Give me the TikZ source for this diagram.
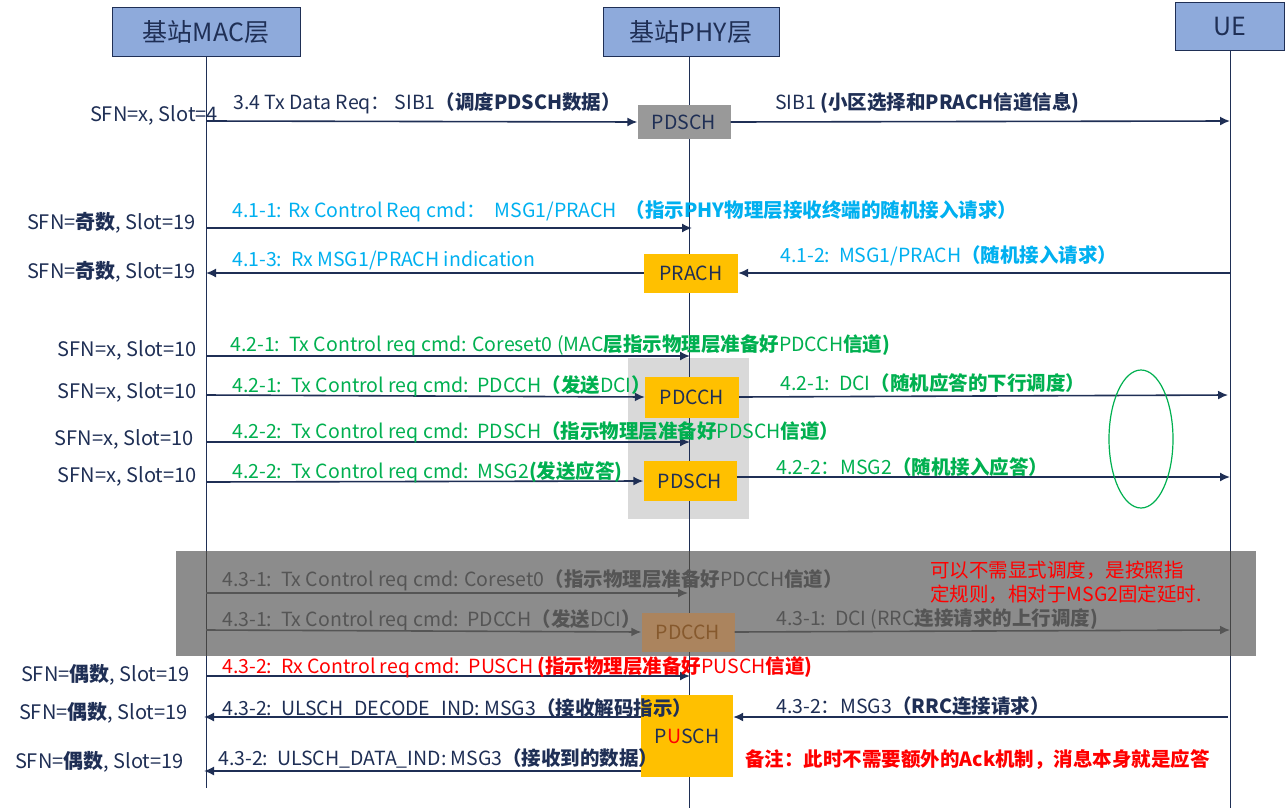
\documentclass[tikz,border=0pt]{standalone}
\usepackage{fontspec}
\setmainfont{Noto Sans CJK SC}
\usetikzlibrary{arrows.meta}
\definecolor{navy}{HTML}{1F2F55}
\definecolor{hdr}{HTML}{8EAADB}
\definecolor{org}{HTML}{FFC000}
\definecolor{cy}{HTML}{00B0F0}
\definecolor{gr}{HTML}{00B050}
\definecolor{ovl}{HTML}{8C8C8C}
\definecolor{ovt}{HTML}{555555}
\begin{document}
\begin{tikzpicture}[x=1pt,y=-1pt,
  hdrbox/.style={draw=navy,fill=hdr,font=\fontsize{25}{27}\selectfont,text=navy,inner sep=0},
  life/.style={navy,line width=1pt},
  msg/.style={navy,line width=1.6pt,-{Latex[length=10pt,width=9pt]}},
  chbox/.style={fill=org,font=\fontsize{19.5}{21}\selectfont,text=navy,inner sep=0},
  lbl/.style={anchor=west,font=\fontsize{19.5}{24}\selectfont,inner sep=0},
  sfn/.style={anchor=east,font=\fontsize{20}{22}\selectfont,text=navy,inner sep=0}]
\useasboundingbox (0,0) rectangle (1288,811);
\fill[white] (0,0) rectangle (1288,811);
% headers
\node[hdrbox,minimum width=188,minimum height=49] (mac) at (206,32) {基站MAC层};
\node[hdrbox,minimum width=176,minimum height=49] (phy) at (691,32) {基站PHY层};
\node[hdrbox,minimum width=109,minimum height=48] (ue) at (1230,26) {UE};
\coordinate (macE) at (206,788);
\coordinate (phyE) at (689,808);
\coordinate (ueE) at (1230,808);
% light gray backdrop
\fill[gray!30] (628,358) rectangle (749,519);
\draw[life] (mac.south) -- (macE);
\draw[life] (phy.south -| phyE) -- (phyE);
\draw[life] (ue.south) -- (ueE);
% row 1
\node[chbox,fill=gray!80,minimum width=93,minimum height=34] (b1) at (684,122) {PDSCH};
\coordinate (m1) at (206,121); \coordinate (u1) at (1230,121);
\draw[msg] (m1) -- (b1.west);
\draw[msg] (b1.east) -- (u1);
\node[lbl,text=navy] at (233,103) {3.4 Tx Data Req： SIB1\textbf{（调度PDSCH数据）}};
\node[lbl,text=navy] at (775,103) {SIB1 \textbf{(小区选择和PRACH信道信息)}};
\node[sfn] at (218,115) {SFN=x, Slot=4};
% 4.1
\coordinate (m2) at (206,228); \coordinate (p2) at (692,228);
\draw[msg] (m2) -- (p2);
\node[lbl,text=cy] at (232,211) {4.1-1: Rx Control Req cmd：\ \ MSG1/PRACH\ \ \textbf{（指示PHY物理层接收终端的随机接入请求）}};
\node[sfn] at (196,223) {SFN=\textbf{奇数}, Slot=19};
\node[chbox,minimum width=94,minimum height=39] (b2) at (691,273) {PRACH};
\coordinate (m3) at (206,273); \coordinate (u3) at (1230,273);
\draw[msg] (u3) -- (b2.east);
\draw[msg] (b2.west) -- (m3);
\node[lbl,text=cy] at (232,260) {4.1-3:\ \ Rx MSG1/PRACH indication};
\node[lbl,text=cy] at (780,256) {4.1-2:\ \ MSG1/PRACH\textbf{（随机接入请求）}};
\node[sfn] at (196,272) {SFN=\textbf{奇数}, Slot=19};
% 4.2
\coordinate (m4) at (206,356); \coordinate (p4) at (690,356);
\draw[msg] (m4) -- (p4);
\node[lbl,text=gr] at (230,345) {4.2-1:\ \ Tx Control req cmd: Coreset0 (MAC\textbf{层指示物理层准备好}PDCCH\textbf{信道)}};
\node[sfn] at (197,350) {SFN=x, Slot=10};
\node[chbox,minimum width=94,minimum height=41] (b3) at (692,397) {PDCCH};
\coordinate (m5) at (206,395); \coordinate (u5) at (1228,395);
\draw[msg] (m5) -- (b3.west);
\draw[msg] (b3.east) -- (u5);
\node[lbl,text=gr] at (232,386) {4.2-1:\ \ Tx Control req cmd:\ \ PDCCH\textbf{（发送}DCI\textbf{）}};
\node[lbl,text=gr] at (780,383) {4.2-1:\ \ DCI\textbf{（随机应答的下行调度）}};
\node[sfn] at (197,392) {SFN=x, Slot=10};
\coordinate (m6) at (206,442); \coordinate (p6) at (690,442);
\draw[msg] (m6) -- (p6);
\node[lbl,text=gr] at (232,432) {4.2-2:\ \ Tx Control req cmd:\ \ PDSCH\textbf{（指示物理层准备好}PDSCH\textbf{信道）}};
\node[sfn] at (194,439) {SFN=x, Slot=10};
\node[chbox,minimum width=93,minimum height=40] (b4) at (690,481) {PDSCH};
\coordinate (m7) at (206,482); \coordinate (u7) at (1230,477);
\draw[msg] (m7) -- (b4.west);
\draw[msg] (b4.east |- u7) -- (u7);
\node[lbl,text=gr] at (232,472) {4.2-2:\ \ Tx Control req cmd:\ \ MSG2\textbf{(发送应答)}};
\node[lbl,text=gr] at (776,467) {4.2-2：MSG2\textbf{（随机接入应答）}};
\node[sfn] at (197,476) {SFN=x, Slot=10};
\draw[gr,line width=1.2pt] (1141,439) ellipse [x radius=32,y radius=69];
% 4.3-1 overlay
\fill[ovl] (176,551) rectangle (1256,656);
\draw[ovt!80!black,line width=1pt] (206,551) -- (206,656) (689,551) -- (689,656) (1230,551) -- (1230,656);
\coordinate (m8) at (206,593); \coordinate (p8) at (688,593);
\draw[msg,ovt] (m8) -- (p8);
\node[lbl,text=ovt] at (222,580) {4.3-1:\ \ Tx Control req cmd: Coreset0\textbf{（指示物理层准备好}PDCCH\textbf{信道）}};
\node[chbox,fill=brown!60!ovl,text=brown!70!black,minimum width=93,minimum height=39] (b5) at (688,632) {PDCCH};
\coordinate (m9) at (206,630); \coordinate (u9) at (1230,630);
\draw[msg,ovt] (m9) -- (b5.west);
\draw[msg,ovt] (b5.east) -- (u9);
\node[lbl,text=ovt] at (222,620) {4.3-1:\ \ Tx Control req cmd:\ \ PDCCH\textbf{（发送}DCI\textbf{）}};
\node[lbl,text=ovt] at (776,619) {4.3-1:\ \ DCI (RRC\textbf{连接请求的上行调度)}};
\node[lbl,text=red,align=left] at (930,582) {可以不需显式调度，是按照指\\定规则，相对于MSG2固定延时.};
% 4.3-2
\coordinate (m10) at (206,676); \coordinate (p10) at (690,676);
\draw[msg] (m10) -- (p10);
\node[lbl,text=red] at (222,667) {4.3-2:\ \ Rx Control req cmd:\ \ PUSCH \textbf{(指示物理层准备好}PUSCH\textbf{信道)}};
\node[sfn] at (190,675) {SFN=\textbf{偶数}, Slot=19};
\node[chbox,minimum width=92,minimum height=82] (b6) at (687,736) {P\textcolor{red}{U}SCH};
\coordinate (u11) at (1228,717); \coordinate (m11) at (204,717); \coordinate (m12) at (204,771);
\draw[msg] (u11) -- (b6.east |- u11);
\draw[msg] (b6.west |- m11) -- (m11);
\draw[msg] (b6.west |- m12) -- (m12);
\node[lbl,text=navy] at (222,708) {4.3-2:\ \ ULSCH\_DECODE\_IND: MSG3\textbf{（接收解码指示）}};
\node[lbl,text=navy] at (776,706) {4.3-2：MSG3\textbf{（RRC连接请求）}};
\node[sfn] at (188,713) {SFN=\textbf{偶数}, Slot=19};
\node[lbl,text=navy] at (218,758) {4.3-2:\ \ ULSCH\_DATA\_IND: MSG3\textbf{（接收到的数据）}};
\node[sfn] at (184,762) {SFN=\textbf{偶数}, Slot=19};
\node[lbl,text=red,font=\fontsize{19.5}{22}\selectfont\bfseries] at (745,760) {备注：此时不需要额外的Ack机制，消息本身就是应答};
\end{tikzpicture}
\end{document}
